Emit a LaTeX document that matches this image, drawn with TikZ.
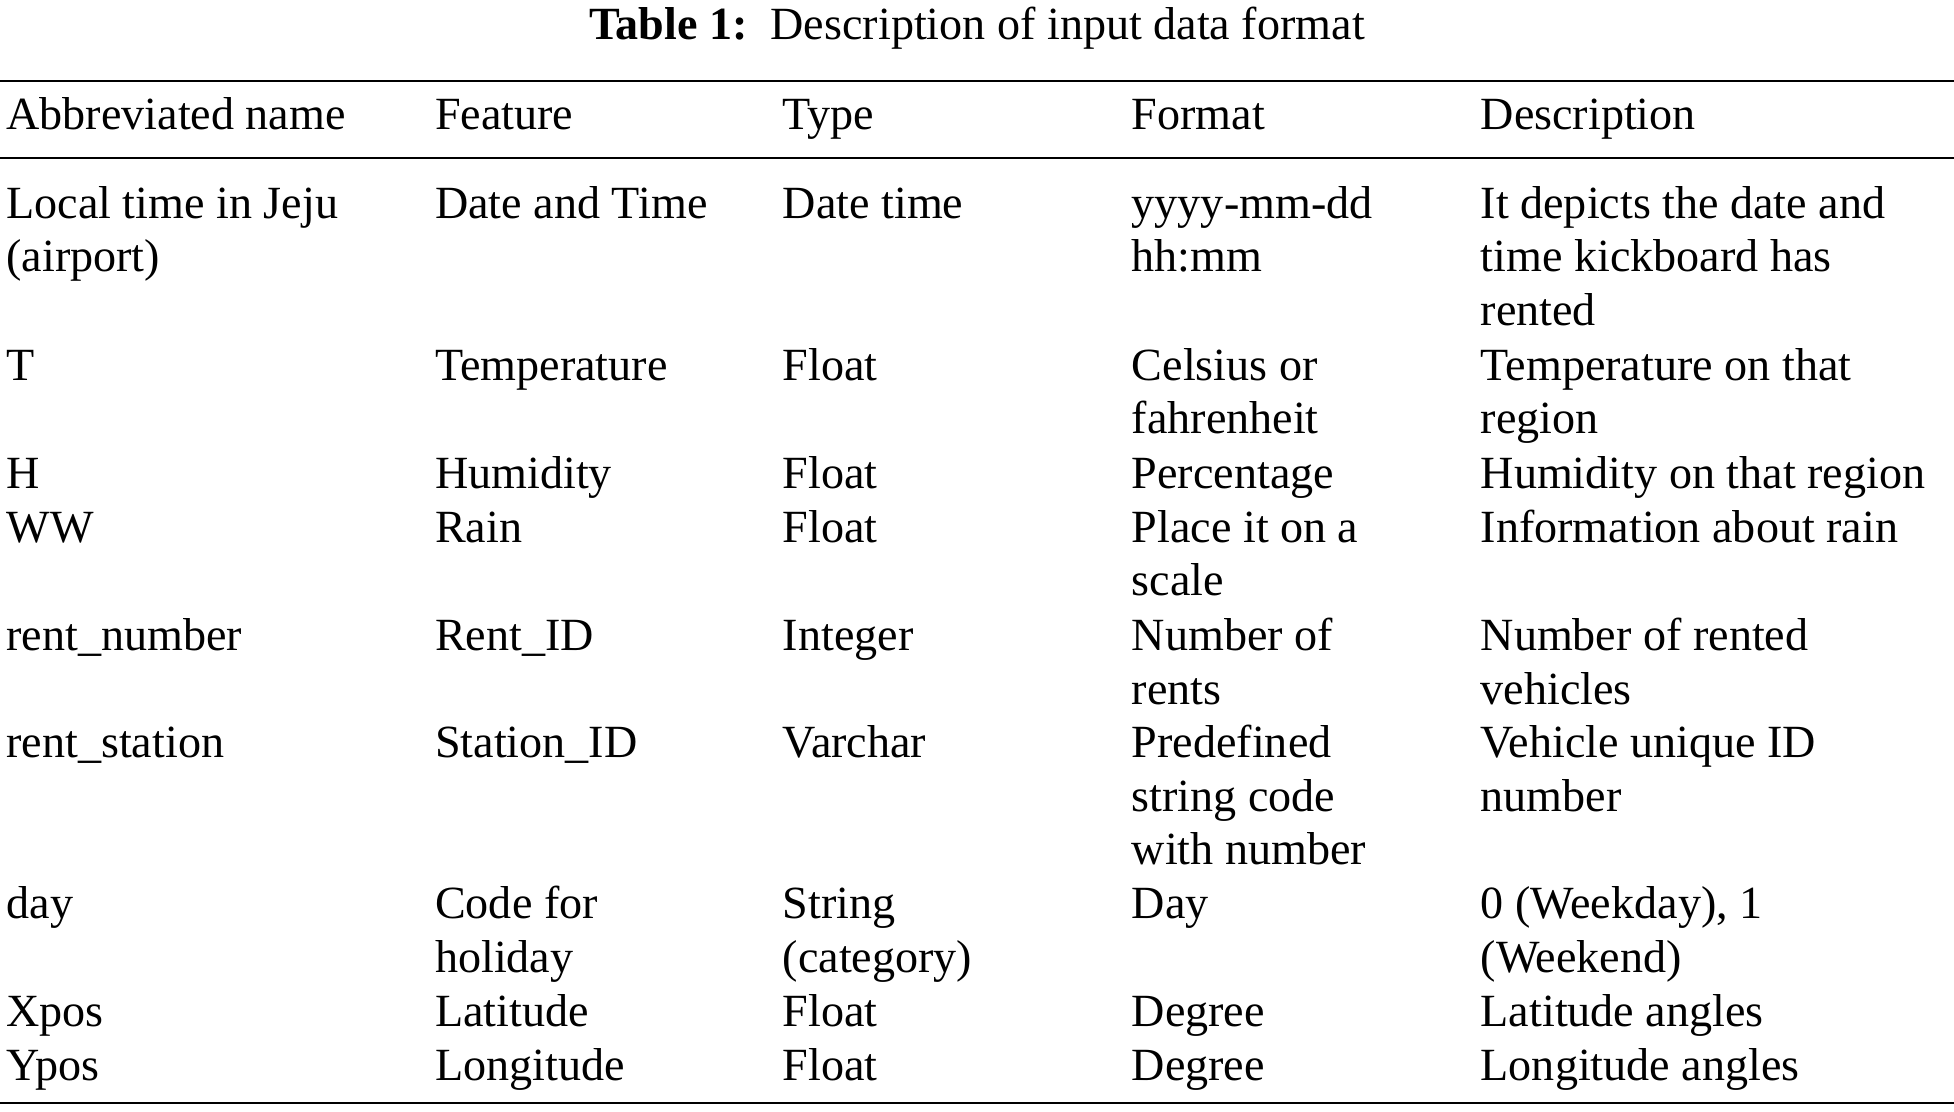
\documentclass[tikz,border=0pt]{standalone}
\usepackage{fontspec}
\setmainfont{Liberation Serif}
\begin{document}
\begin{tikzpicture}[x=1pt,y=-1pt,
  cell/.style={anchor=base west,inner sep=0pt,font=\fontsize{37}{43}\selectfont},
  rulel/.style={line width=2pt}]
\useasboundingbox (0,0) rectangle (1568,892);
\node[anchor=base,inner sep=0pt,font=\fontsize{37}{43}\selectfont] (title) at (784,32) {\textbf{Table 1:}\ \ Description of input data format};
\coordinate (tl) at (0,65); \coordinate (tr) at (1568,65);
\coordinate (ml) at (0,127); \coordinate (mr) at (1568,127);
\coordinate (bl) at (0,885); \coordinate (br) at (1568,885);
\draw[rulel] (tl) -- (tr);
\draw[line width=1.3pt] (ml) -- (mr);
\draw[rulel] (bl) -- (br);
\def\ya{104}
\node[cell] (h1) at (5,\ya) {Abbreviated name};
\node[cell] (h2) at (349,\ya) {Feature};
\node[cell] (h3) at (628,\ya) {Type};
\node[cell] (h4) at (908,\ya) {Format};
\node[cell] (h5) at (1188,\ya) {Description};
% row 1
\node[cell] (a1) at (5,175) {Local time in Jeju};
\node[cell] (a1b) at (5,218) {(airport)};
\node[cell] (b1) at (349,175) {Date and Time};
\node[cell] (c1) at (628,175) {Date time};
\node[cell] (d1) at (908,175) {yyyy-mm-dd};
\node[cell] (d1b) at (908,218) {hh:mm};
\node[cell] (e1) at (1188,175) {It depicts the date and};
\node[cell] (e1b) at (1188,218) {time kickboard has};
\node[cell] (e1c) at (1188,261) {rented};
% row 2
\node[cell] (a2) at (5,305) {T};
\node[cell] (b2) at (349,305) {Temperature};
\node[cell] (c2) at (628,305) {Float};
\node[cell] (d2) at (908,305) {Celsius or};
\node[cell] (d2b) at (908,348) {fahrenheit};
\node[cell] (e2) at (1188,305) {Temperature on that};
\node[cell] (e2b) at (1188,348) {region};
% row 3
\node[cell] (a3) at (5,392) {H};
\node[cell] (b3) at (349,392) {Humidity};
\node[cell] (c3) at (628,392) {Float};
\node[cell] (d3) at (908,392) {Percentage};
\node[cell] (e3) at (1188,392) {Humidity on that region};
% row 4
\node[cell] (a4) at (5,435) {WW};
\node[cell] (b4) at (349,435) {Rain};
\node[cell] (c4) at (628,435) {Float};
\node[cell] (d4) at (908,435) {Place it on a};
\node[cell] (d4b) at (908,478) {scale};
\node[cell] (e4) at (1188,435) {Information about rain};
% row 5
\node[cell] (a5) at (5,522) {rent\_number};
\node[cell] (b5) at (349,522) {Rent\_ID};
\node[cell] (c5) at (628,522) {Integer};
\node[cell] (d5) at (908,522) {Number of};
\node[cell] (d5b) at (908,565) {rents};
\node[cell] (e5) at (1188,522) {Number of rented};
\node[cell] (e5b) at (1188,565) {vehicles};
% row 6
\node[cell] (a6) at (5,608) {rent\_station};
\node[cell] (b6) at (349,608) {Station\_ID};
\node[cell] (c6) at (628,608) {Varchar};
\node[cell] (d6) at (908,608) {Predefined};
\node[cell] (d6b) at (908,651) {string code};
\node[cell] (d6c) at (908,694) {with number};
\node[cell] (e6) at (1188,608) {Vehicle unique ID};
\node[cell] (e6b) at (1188,651) {number};
% row 7
\node[cell] (a7) at (5,737) {day};
\node[cell] (b7) at (349,737) {Code for};
\node[cell] (b7b) at (349,780) {holiday};
\node[cell] (c7) at (628,737) {String};
\node[cell] (c7b) at (628,780) {(category)};
\node[cell] (d7) at (908,737) {Day};
\node[cell] (e7) at (1188,737) {0 (Weekday), 1};
\node[cell] (e7b) at (1188,780) {(Weekend)};
% row 8
\node[cell] (a8) at (5,824) {Xpos};
\node[cell] (b8) at (349,824) {Latitude};
\node[cell] (c8) at (628,824) {Float};
\node[cell] (d8) at (908,824) {Degree};
\node[cell] (e8) at (1188,824) {Latitude angles};
% row 9
\node[cell] (a9) at (5,867) {Ypos};
\node[cell] (b9) at (349,867) {Longitude};
\node[cell] (c9) at (628,867) {Float};
\node[cell] (d9) at (908,867) {Degree};
\node[cell] (e9) at (1188,867) {Longitude angles};
\end{tikzpicture}
\end{document}
